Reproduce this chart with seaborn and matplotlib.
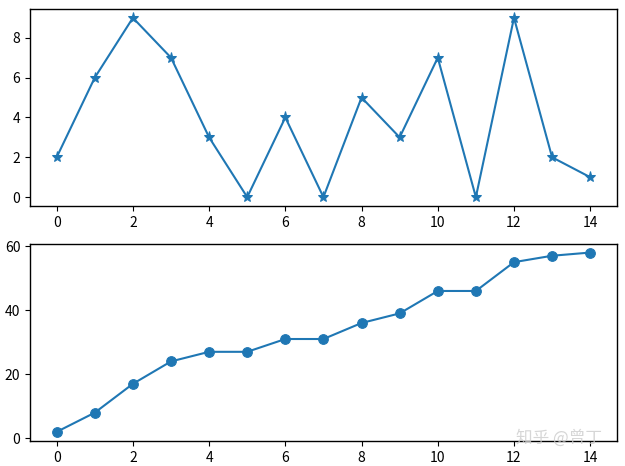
import matplotlib
matplotlib.use("Agg")
import matplotlib.pyplot as plt
import seaborn as sns
import numpy as np
import pandas as pd

sns.set_style("ticks")
plt.rcParams['font.family'] = ['Noto Sans CJK SC', 'DejaVu Sans']
plt.rcParams['axes.unicode_minus'] = False

x_values = list(range(15))
values = [2, 6, 9, 7, 3, 0, 4, 0, 5, 3, 7, 0, 9, 2, 1]
cumulative = [2, 8, 17, 24, 27, 27, 31, 31, 36, 39, 46, 46, 55, 57, 58]

df = pd.DataFrame({"x": x_values, "v": values, "c": cumulative})

fig, (ax1, ax2) = plt.subplots(2, 1, figsize=(6.25, 4.66), dpi=100)
color = "#1f77b4"
sns.lineplot(data=df, x="x", y="v", ax=ax1, marker="*", markersize=8,
             color=color, markeredgecolor=color, linewidth=1.5)
sns.lineplot(data=df, x="x", y="c", ax=ax2, marker="o", markersize=7,
             color=color, markeredgecolor=color, linewidth=1.5)
for ax in (ax1, ax2):
    ax.set_xlabel("")
    ax.set_ylabel("")
    ax.set_xticks(range(0, 15, 2))
    for s in ax.spines.values():
        s.set_visible(True)
        s.set_linewidth(1.0)
        s.set_color("black")
    ax.tick_params(labelsize=10, colors="black")
ax1.set_yticks([0, 2, 4, 6, 8])
ax2.set_yticks([0, 20, 40, 60])

fig.subplots_adjust(left=0.048, right=0.987, top=0.981, bottom=0.054, hspace=0.19)
fig.text(0.895, 0.06, "知乎 @曾丁", ha="center", va="center", fontsize=12,
         color="#cccccc", alpha=0.8)
fig.savefig("out.png", dpi=100)
